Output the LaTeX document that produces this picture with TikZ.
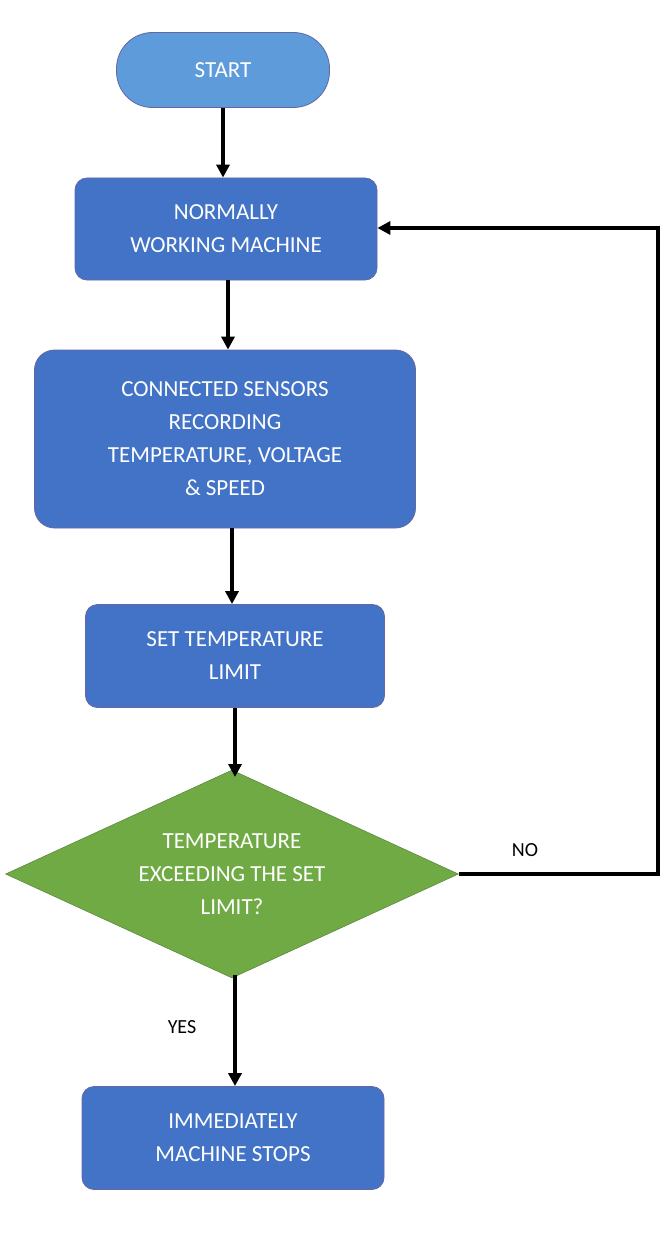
\documentclass[tikz,border=0pt]{standalone}
\usepackage{fontspec}
\setmainfont{Carlito}
\usetikzlibrary{shapes.geometric,arrows.meta}
\begin{document}
\begin{tikzpicture}[x=1pt,y=-1pt,
  box/.style={draw=blue!40!black!60, line width=0.8pt, fill=blue1, rounded corners=12pt, text=white, align=center, font=\fontsize{23}{33}\selectfont, inner sep=0pt},
  arr/.style={-{Triangle[length=13pt,width=13pt]}, line width=3.5pt},
  lbl/.style={font=\fontsize{20}{22}\selectfont}]
\definecolor{blue1}{HTML}{4273C6}
\definecolor{blue2}{HTML}{5E9BDB}
\definecolor{green1}{HTML}{6FAA44}
\useasboundingbox (0,0) rectangle (670,1257);
\node[box, fill=blue2, rounded corners=36pt, minimum width=213pt, minimum height=75pt] (start) at (223,70) {START};
\node[box, minimum width=302pt, minimum height=102pt] (norm) at (226,229) {NORMALLY\\WORKING MACHINE};
\node[box, rounded corners=20pt, minimum width=381pt, minimum height=178pt] (conn) at (225,439) {CONNECTED SENSORS\\RECORDING\\TEMPERATURE, VOLTAGE\\\& SPEED};
\node[box, minimum width=299pt, minimum height=103pt] (set) at (235,656) {SET TEMPERATURE\\LIMIT};
\node[draw=green1!70!black, fill=green1, diamond, aspect=2.18, minimum width=453pt, minimum height=208pt, inner sep=0pt, text=white, align=center, font=\fontsize{23}{33}\selectfont] (dec) at (232,874) {TEMPERATURE\\EXCEEDING THE SET\\LIMIT?};
\node[box, minimum width=302pt, minimum height=103pt] (imm) at (233,1138) {IMMEDIATELY\\MACHINE STOPS};
\draw[arr] (start.south) -- (start.south |- norm.north);
\draw[arr] (norm.south) ++(2,0) coordinate (a1) -- (a1 |- conn.north);
\draw[arr] (232,528) coordinate (a2) -- (a2 |- set.north);
\draw[arr] (235,708) coordinate (a3) -- (235,777);
\draw[arr] (235,975) coordinate (a4) -- (a4 |- imm.north);
\coordinate (c1) at (658,874);
\coordinate (c2) at (658,228);
\draw[arr] (dec.east) -- (c1) -- (c2) -- (norm.east |- c2);
\node[lbl] (no) at (525,850) {NO};
\node[lbl] (yes) at (182,1027) {YES};
\end{tikzpicture}
\end{document}
